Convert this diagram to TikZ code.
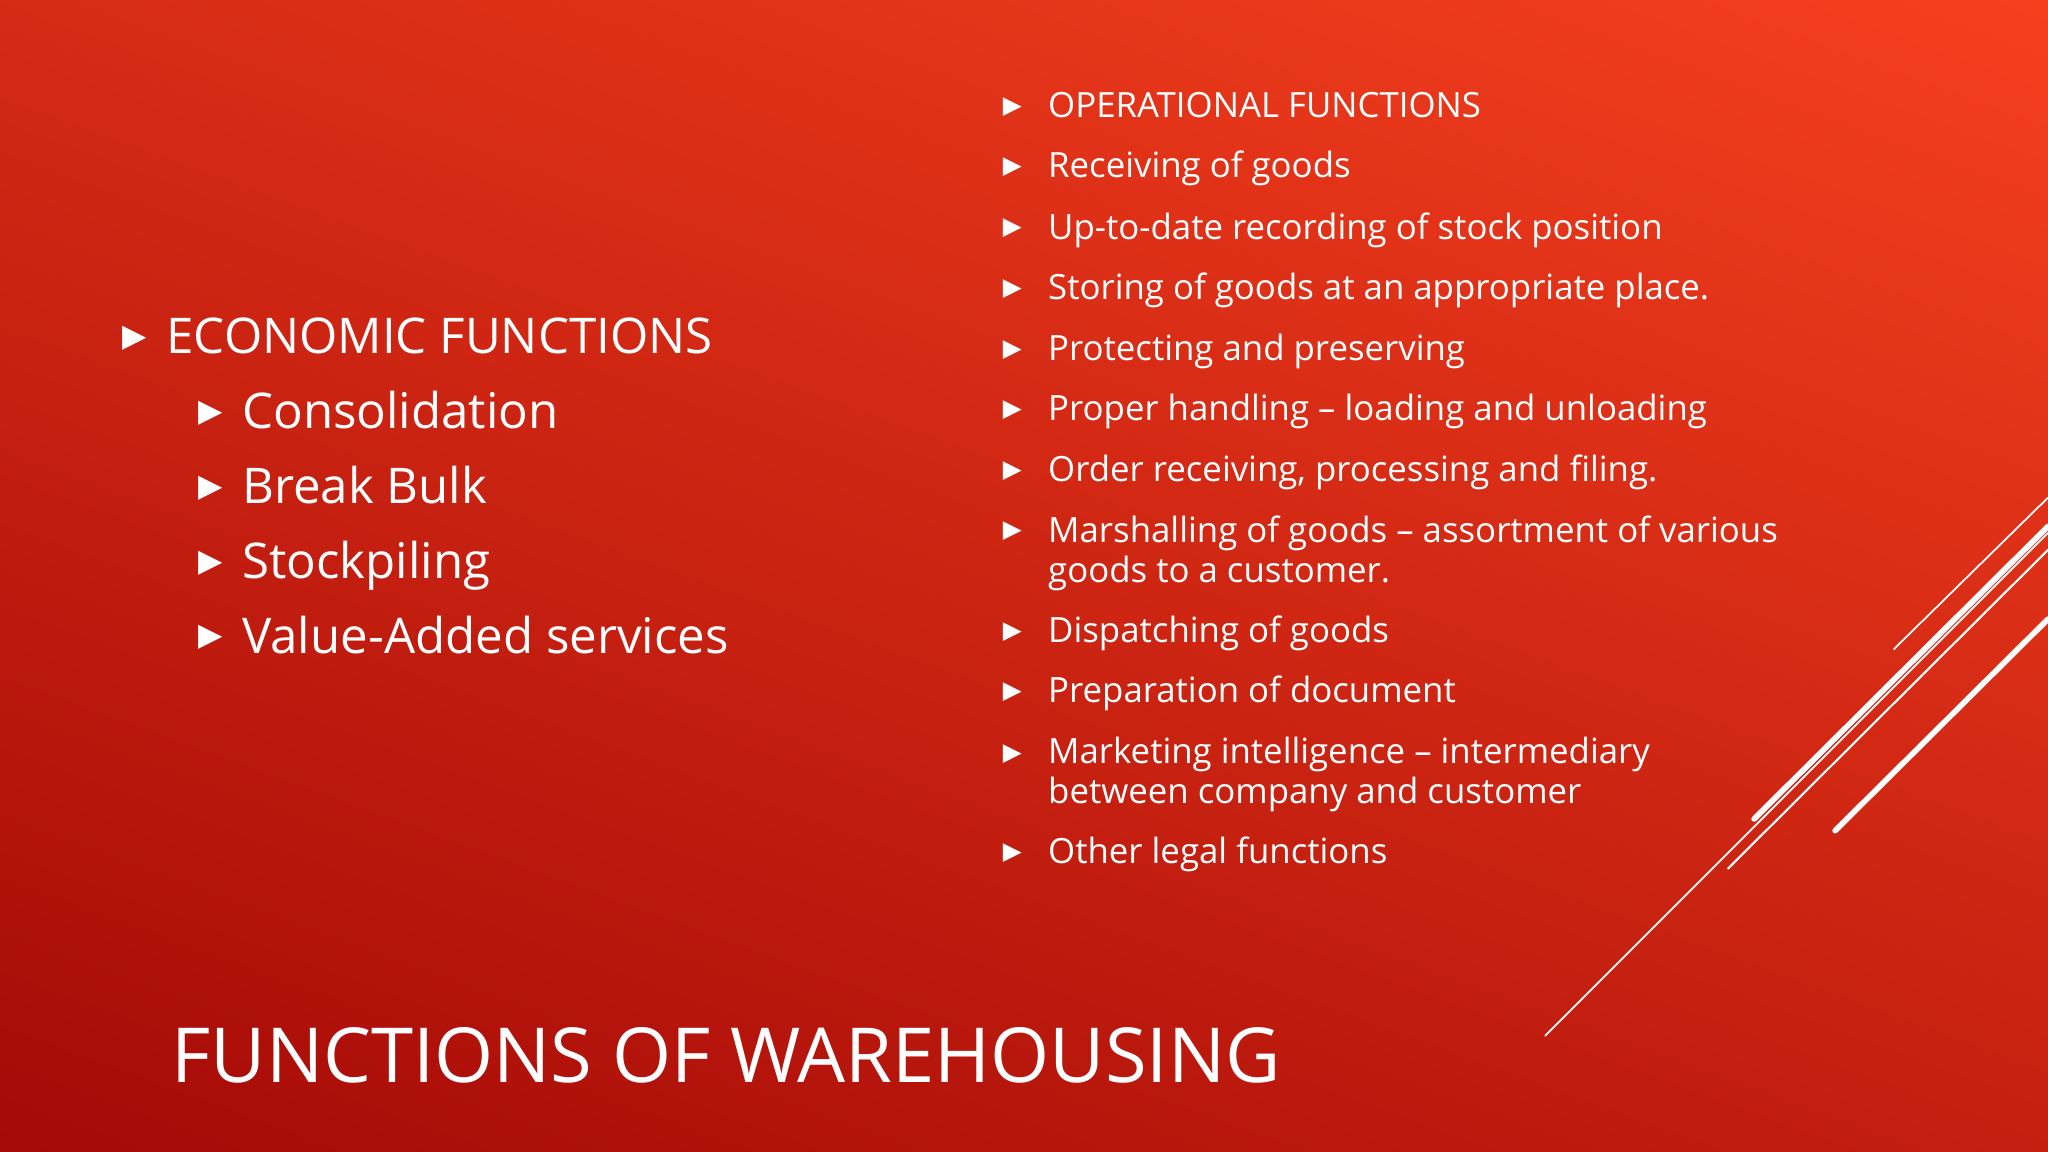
\documentclass[tikz,border=0pt]{standalone}
\usepackage{fontspec}
\setmainfont{Open Sans}
\newfontfamily\dejv{DejaVu Sans}
\definecolor{bgtop}{HTML}{F8421F}
\definecolor{bgbot}{HTML}{A20806}
\begin{document}
\begin{tikzpicture}[x=0.013061cm,y=-0.013061cm,
  txt/.style={text=white,anchor=base west,inner sep=0pt},
  big/.style={txt,font=\fontsize{14}{17}\selectfont},
  small/.style={txt,font=\fontsize{9.9}{11.3}\selectfont,align=left},
  bul/.style={text=white,inner sep=0pt,font=\dejv\fontsize{7}{8}\selectfont},
  bulb/.style={text=white,inner sep=0pt,font=\dejv\fontsize{9}{10}\selectfont},
  ln/.style={white,line cap=round}]
\useasboundingbox (0,0) rectangle (1568,882);
\shade[top color=bgtop,bottom color=bgbot,shading angle=-20] (-200,-200) rectangle (1768,1082);
% left
\node[bulb] (b0) at (103,259) {▶};
\node[big] (e0) at (127,271) {ECONOMIC FUNCTIONS};
\foreach \t [count=\i] in {Consolidation,Break Bulk,Stockpiling,Value-Added services}{
  \node[bulb] (lb\i) at (161,259+57.3*\i) {▶};
  \node[big] (l\i) at (185,271+57.3*\i) {\t};
}
% right
\foreach \y/\t [count=\i] in {80/OPERATIONAL FUNCTIONS,126/Receiving of goods,173/Up-to-date recording of stock position,219/Storing of goods at an appropriate place.,266/Protecting and preserving,312/Proper handling – loading and unloading,359/{Order receiving, processing and filing.},482/Dispatching of goods,528/Preparation of document,651/Other legal functions}{
  \node[bul] (rb\i) at (775,\y+2) {▶};
  \node[small] (r\i) at (802,\y+10) {\t};
}
\node[bul] (rbm) at (775,407) {▶};
\node[small] (rm) at (802,446) {Marshalling of goods – assortment of various\\goods to a customer.};
\node[bul] (rbk) at (775,577) {▶};
\node[small] (rk) at (802,615) {Marketing intelligence – intermediary\\between company and customer};
% title
\node[txt,font=\fontsize{21.6}{26}\selectfont] (title) at (131,829) {FUNCTIONS OF WAREHOUSING};
% lines
\draw[ln,line width=0.5pt] (1450,497) -- (1568,381);
\draw[ln,line width=1.6pt] (1343,627) -- (1568,403);
\draw[ln,line width=0.6pt] (1323,665) -- (1568,421);
\draw[ln,line width=1.6pt] (1405,636) -- (1568,474);
\draw[ln,line width=0.5pt] (1183,793) -- (1568,408);
\end{tikzpicture}
\end{document}
